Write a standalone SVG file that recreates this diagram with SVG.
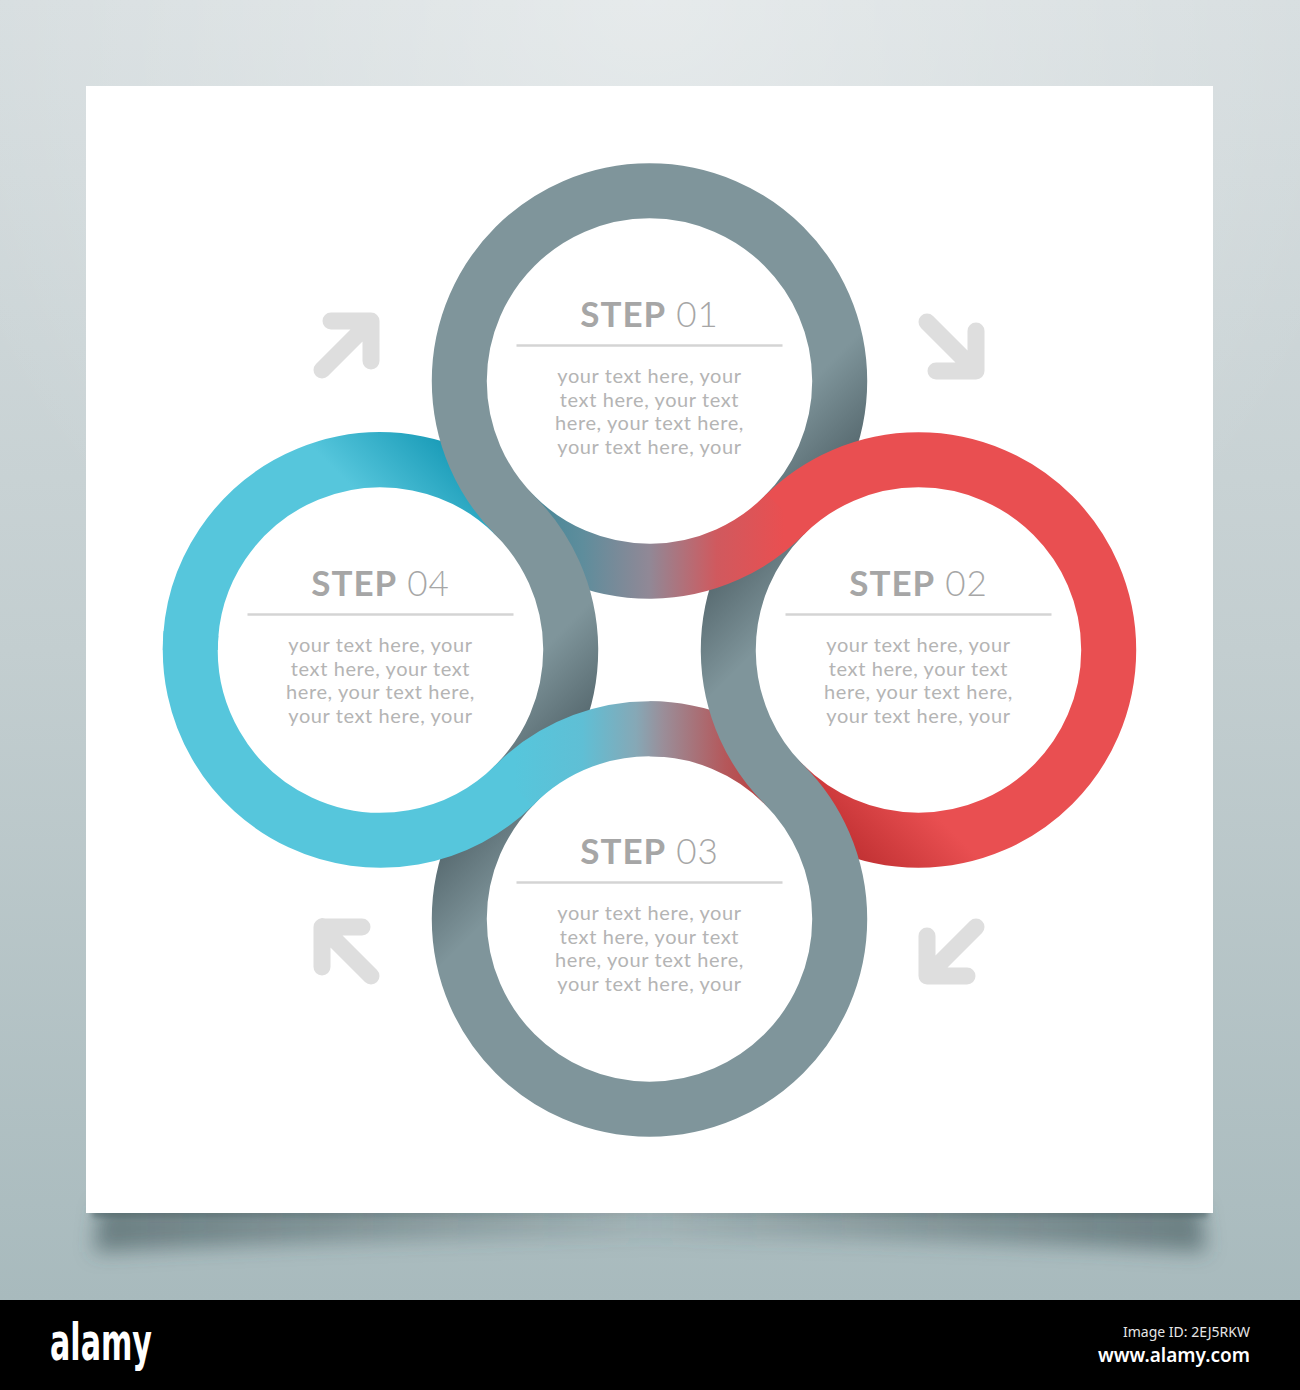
<svg xmlns="http://www.w3.org/2000/svg" width="1300" height="1390" viewBox="0 0 1300 1390">
<style>
.band{fill:none;stroke-width:55}
.title{font-family:Lato,'Open Sans',sans-serif;font-size:35px;fill:#a6a6a6;text-anchor:middle;letter-spacing:1px}
.b{font-weight:700}
.l{font-weight:300}
.body{font-family:Lato,'Open Sans',sans-serif;font-size:20px;fill:#b4b4b4;text-anchor:middle;letter-spacing:0.6px}
.div{stroke:#d4d4d4;stroke-width:2.5}
.arrow{fill:none;stroke:#dedede;stroke-width:17;stroke-linecap:round;stroke-linejoin:round}
</style>
<defs>
<linearGradient id="bg" x1="0" y1="0" x2="0" y2="1300" gradientUnits="userSpaceOnUse">
<stop offset="0" stop-color="#d6dddf"/>
<stop offset="0.5" stop-color="#c3ced0"/>
<stop offset="1" stop-color="#a8babd"/>
</linearGradient>
<radialGradient id="bgHi" cx="650" cy="0" r="750" gradientUnits="userSpaceOnUse">
<stop offset="0" stop-color="#ffffff" stop-opacity="0.4"/>
<stop offset="1" stop-color="#ffffff" stop-opacity="0"/>
</radialGradient>
<linearGradient id="shadowG" x1="90" y1="0" x2="1210" y2="0" gradientUnits="userSpaceOnUse">
<stop offset="0" stop-color="#3e5458" stop-opacity="0.6"/>
<stop offset="0.22" stop-color="#3e5458" stop-opacity="0.4"/>
<stop offset="0.5" stop-color="#3e5458" stop-opacity="0.1"/>
<stop offset="0.78" stop-color="#3e5458" stop-opacity="0.4"/>
<stop offset="1" stop-color="#3e5458" stop-opacity="0.6"/>
</linearGradient>
<filter id="blur" x="-10%" y="-100%" width="120%" height="300%"><feGaussianBlur stdDeviation="10"/></filter>
<filter id="blur2" x="-10%" y="-200%" width="120%" height="500%"><feGaussianBlur stdDeviation="3"/></filter>
<linearGradient id="gG1" x1="649.5" y1="381" x2="784" y2="515.5" gradientUnits="userSpaceOnUse">
<stop offset="0.6" stop-color="#7f959b"/><stop offset="1" stop-color="#5a6d73"/>
</linearGradient>
<linearGradient id="gG2" x1="380.5" y1="650" x2="515" y2="784.5" gradientUnits="userSpaceOnUse">
<stop offset="0.6" stop-color="#7f959b"/><stop offset="1" stop-color="#5a6d73"/>
</linearGradient>
<linearGradient id="gG3" x1="918.5" y1="650" x2="784" y2="515.5" gradientUnits="userSpaceOnUse">
<stop offset="0.6" stop-color="#7f959b"/><stop offset="1" stop-color="#5a6d73"/>
</linearGradient>
<linearGradient id="gG4" x1="649.5" y1="919" x2="515" y2="784.5" gradientUnits="userSpaceOnUse">
<stop offset="0.6" stop-color="#7f959b"/><stop offset="1" stop-color="#5a6d73"/>
</linearGradient>
<linearGradient id="gC1" x1="380.5" y1="650" x2="515" y2="515.5" gradientUnits="userSpaceOnUse">
<stop offset="0.5" stop-color="#56c6dc"/><stop offset="1" stop-color="#1c9db9"/>
</linearGradient>
<linearGradient id="gC3" x1="918.5" y1="650" x2="784" y2="784.5" gradientUnits="userSpaceOnUse">
<stop offset="0.55" stop-color="#e94f51"/><stop offset="1" stop-color="#c23234"/>
</linearGradient>
<linearGradient id="gC2" x1="515" y1="0" x2="784" y2="0" gradientUnits="userSpaceOnUse">
<stop offset="0" stop-color="#3d8496"/>
<stop offset="0.25" stop-color="#5e8d9c"/>
<stop offset="0.5" stop-color="#918896"/>
<stop offset="0.75" stop-color="#d0595e"/>
<stop offset="1" stop-color="#e94f51"/>
</linearGradient>
<linearGradient id="gC4" x1="515" y1="0" x2="784" y2="0" gradientUnits="userSpaceOnUse">
<stop offset="0" stop-color="#56c6dc"/>
<stop offset="0.25" stop-color="#5fbfd5"/>
<stop offset="0.45" stop-color="#86a8b6"/>
<stop offset="0.55" stop-color="#9a8e99"/>
<stop offset="0.78" stop-color="#b4585b"/>
<stop offset="1" stop-color="#c0302f"/>
</linearGradient>
</defs>

<g id="background">
<rect x="0" y="0" width="1300" height="1300" fill="url(#bg)"/>
<rect x="0" y="0" width="1300" height="1300" fill="url(#bgHi)"/>
<path d="M100 1206 L1200 1206 L1206 1252 Q650 1224 94 1252 Z" fill="url(#shadowG)" filter="url(#blur)"/>
<rect x="92" y="1209" width="1116" height="8" fill="url(#shadowG)" filter="url(#blur2)"/>
<rect x="86" y="86" width="1127" height="1127" fill="#ffffff"/>
</g>

<g id="rings">
<path id="C1a" class="band" stroke="url(#gC1)" d="M515 515.5 A190.21 190.21 0 0 0 190.29 650"/>
<path id="G1" class="band" stroke="url(#gG1)" d="M515 515.5 A190.21 190.21 0 1 1 784 515.5"/>
<path id="C3" class="band" stroke="url(#gC3)" d="M784 515.5 A190.21 190.21 0 1 1 784 784.5"/>
<path id="G4" class="band" stroke="url(#gG4)" d="M515 784.5 A190.21 190.21 0 1 0 784 784.5"/>
<path id="C1b" class="band" stroke="url(#gC1)" d="M191.01 633.42 A190.21 190.21 0 0 0 515 784.5"/>
<path id="C4b" class="band" stroke="url(#gC4)" d="M649.5 728.79 A190.21 190.21 0 0 1 784 784.5"/>
<path id="G3" class="band" stroke="url(#gG3)" d="M784 515.5 A190.21 190.21 0 0 0 786.37 786.82"/>
<path id="C2" class="band" stroke="url(#gC2)" d="M515 515.5 A190.21 190.21 0 0 0 786.32 513.13"/>
<path id="G2" class="band" stroke="url(#gG2)" d="M512.63 513.18 A190.21 190.21 0 0 1 515 784.5"/>
<path id="C4a" class="band" stroke="url(#gC4)" d="M512.68 786.87 A190.21 190.21 0 0 1 666.08 729.51"/>
</g>

<g id="connectors">
<path class="arrow" d="M322 370 L371 321 M331 321 L371 321 L371 361"/>
<path class="arrow" d="M927 322 L976 371 M976 331 L976 371 L936 371"/>
<path class="arrow" d="M976 927 L927 976 M927 936 L927 976 L967 976"/>
<path class="arrow" d="M371 976 L322 927 M362 927 L322 927 L322 967"/>
</g>

<g id="step1">
<text class="title" x="649.5" y="327"><tspan class="b">STEP</tspan> <tspan class="l">01</tspan></text>
<line class="div" x1="516.5" y1="345.5" x2="782.5" y2="345.5"/>
<text class="body" x="649.5" y="383">your text here, your</text>
<text class="body" x="649.5" y="406.5">text here, your text</text>
<text class="body" x="649.5" y="430">here, your text here,</text>
<text class="body" x="649.5" y="453.5">your text here, your</text>
</g>

<g id="step2">
<text class="title" x="918.5" y="596"><tspan class="b">STEP</tspan> <tspan class="l">02</tspan></text>
<line class="div" x1="785.5" y1="614.5" x2="1051.5" y2="614.5"/>
<text class="body" x="918.5" y="652">your text here, your</text>
<text class="body" x="918.5" y="675.5">text here, your text</text>
<text class="body" x="918.5" y="699">here, your text here,</text>
<text class="body" x="918.5" y="722.5">your text here, your</text>
</g>

<g id="step3">
<text class="title" x="649.5" y="864"><tspan class="b">STEP</tspan> <tspan class="l">03</tspan></text>
<line class="div" x1="516.5" y1="882.5" x2="782.5" y2="882.5"/>
<text class="body" x="649.5" y="920">your text here, your</text>
<text class="body" x="649.5" y="943.5">text here, your text</text>
<text class="body" x="649.5" y="967">here, your text here,</text>
<text class="body" x="649.5" y="990.5">your text here, your</text>
</g>

<g id="step4">
<text class="title" x="380.5" y="596"><tspan class="b">STEP</tspan> <tspan class="l">04</tspan></text>
<line class="div" x1="247.5" y1="614.5" x2="513.5" y2="614.5"/>
<text class="body" x="380.5" y="652">your text here, your</text>
<text class="body" x="380.5" y="675.5">text here, your text</text>
<text class="body" x="380.5" y="699">here, your text here,</text>
<text class="body" x="380.5" y="722.5">your text here, your</text>
</g>

<g id="footer">
<rect x="0" y="1300" width="1300" height="90" fill="#000000"/>
<text x="50" y="1360" font-family="'Liberation Sans Narrow','DejaVu Sans Condensed','Liberation Sans',sans-serif" font-weight="700" font-size="52" fill="#ffffff" textLength="102" lengthAdjust="spacingAndGlyphs">alamy</text>
<text x="1250" y="1337" font-family="'Noto Sans','Open Sans',sans-serif" font-size="14" fill="#e6e6e6" text-anchor="end">Image ID: 2EJ5RKW</text>
<text x="1250" y="1362" font-family="'Noto Sans','Open Sans',sans-serif" font-weight="600" font-size="19" fill="#ffffff" text-anchor="end">www.alamy.com</text>
</g>
</svg>
